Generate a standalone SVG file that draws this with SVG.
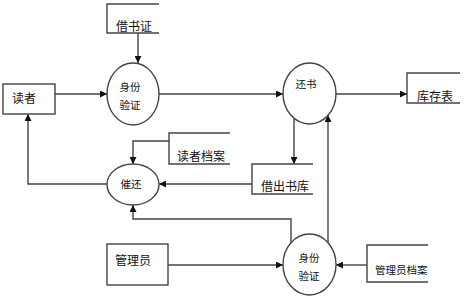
<svg xmlns="http://www.w3.org/2000/svg" width="474" height="297" viewBox="0 0 474 297">
<defs>
<marker id="arr" viewBox="0 0 10 10" refX="10" refY="5" markerWidth="7" markerHeight="7" markerUnits="userSpaceOnUse" orient="auto">
<path d="M0,0 L10,5 L0,10 Z" fill="#111"/>
</marker>
</defs>
<style>
.ln{fill:none;stroke:#444;stroke-width:1.4}
.shape{fill:#fff;stroke:#444;stroke-width:1.4}
.st{fill:none;stroke:#444;stroke-width:1.4}
text{font-family:"Liberation Sans","Noto Sans CJK SC",sans-serif;fill:#111;font-size:12px}
.sm{font-size:10.5px}
</style>
<rect width="474" height="297" fill="#fff"/>
<g id="connectors">
<path class="ln" d="M138,33 V63" marker-end="url(#arr)"/>
<path class="ln" d="M55,94 H107" marker-end="url(#arr)"/>
<path class="ln" d="M159,94 H283" marker-end="url(#arr)"/>
<path class="ln" d="M336,94 H407" marker-end="url(#arr)"/>
<path class="ln" d="M294,119 V164" marker-end="url(#arr)"/>
<path class="ln" d="M328,243 V115" marker-end="url(#arr)"/>
<path class="ln" d="M252,184 H159" marker-end="url(#arr)"/>
<path class="ln" d="M169,141 H133 V164" marker-end="url(#arr)"/>
<path class="ln" d="M107,184 H28 V114" marker-end="url(#arr)"/>
<path class="ln" d="M291,243 V219 H133 V205" marker-end="url(#arr)"/>
<path class="ln" d="M168,265 H283" marker-end="url(#arr)"/>
<path class="ln" d="M367,265 H336" marker-end="url(#arr)"/>
</g>
<g id="jieshuzheng">
<path class="st" d="M159,4 H107 V33 H159"/>
<text x="116" y="31">借书证</text>
</g>
<g id="duzhe">
<rect class="shape" x="3" y="84" width="52" height="30"/>
<text x="12" y="103">读者</text>
</g>
<g id="shenfen1">
<ellipse class="shape" cx="133" cy="94" rx="26" ry="31"/>
<text class="sm" x="130" y="91" text-anchor="middle">身份</text>
<text class="sm" x="130" y="109" text-anchor="middle">验证</text>
</g>
<g id="huanshu">
<ellipse class="shape" cx="309.5" cy="93.5" rx="26.5" ry="30.5"/>
<text class="sm" x="306" y="88" text-anchor="middle">还书</text>
</g>
<g id="kucunbiao">
<path class="st" d="M460,73 H407 V103 H460"/>
<text x="417" y="101">库存表</text>
</g>
<g id="duzhedangan">
<path class="st" d="M230,133 H169 V164 H230"/>
<text x="177" y="161">读者档案</text>
</g>
<g id="jiechushuku">
<path class="st" d="M313,164 H252 V194 H313"/>
<text x="261" y="191">借出书库</text>
</g>
<g id="cuihuan">
<ellipse class="shape" cx="133" cy="184.5" rx="26" ry="20.5"/>
<text class="sm" x="131" y="188" text-anchor="middle">催还</text>
</g>
<g id="guanliyuan">
<rect class="shape" x="107" y="244" width="61" height="41"/>
<text x="115" y="265">管理员</text>
</g>
<g id="shenfen2">
<ellipse class="shape" cx="309.5" cy="264.5" rx="26.5" ry="30.5"/>
<text class="sm" x="309" y="262" text-anchor="middle">身份</text>
<text class="sm" x="309" y="280" text-anchor="middle">验证</text>
</g>
<g id="guanliyuandangan">
<path class="st" d="M428,245 H367 V282 H428"/>
<text class="sm" x="375" y="274">管理员档案</text>
</g>
</svg>
